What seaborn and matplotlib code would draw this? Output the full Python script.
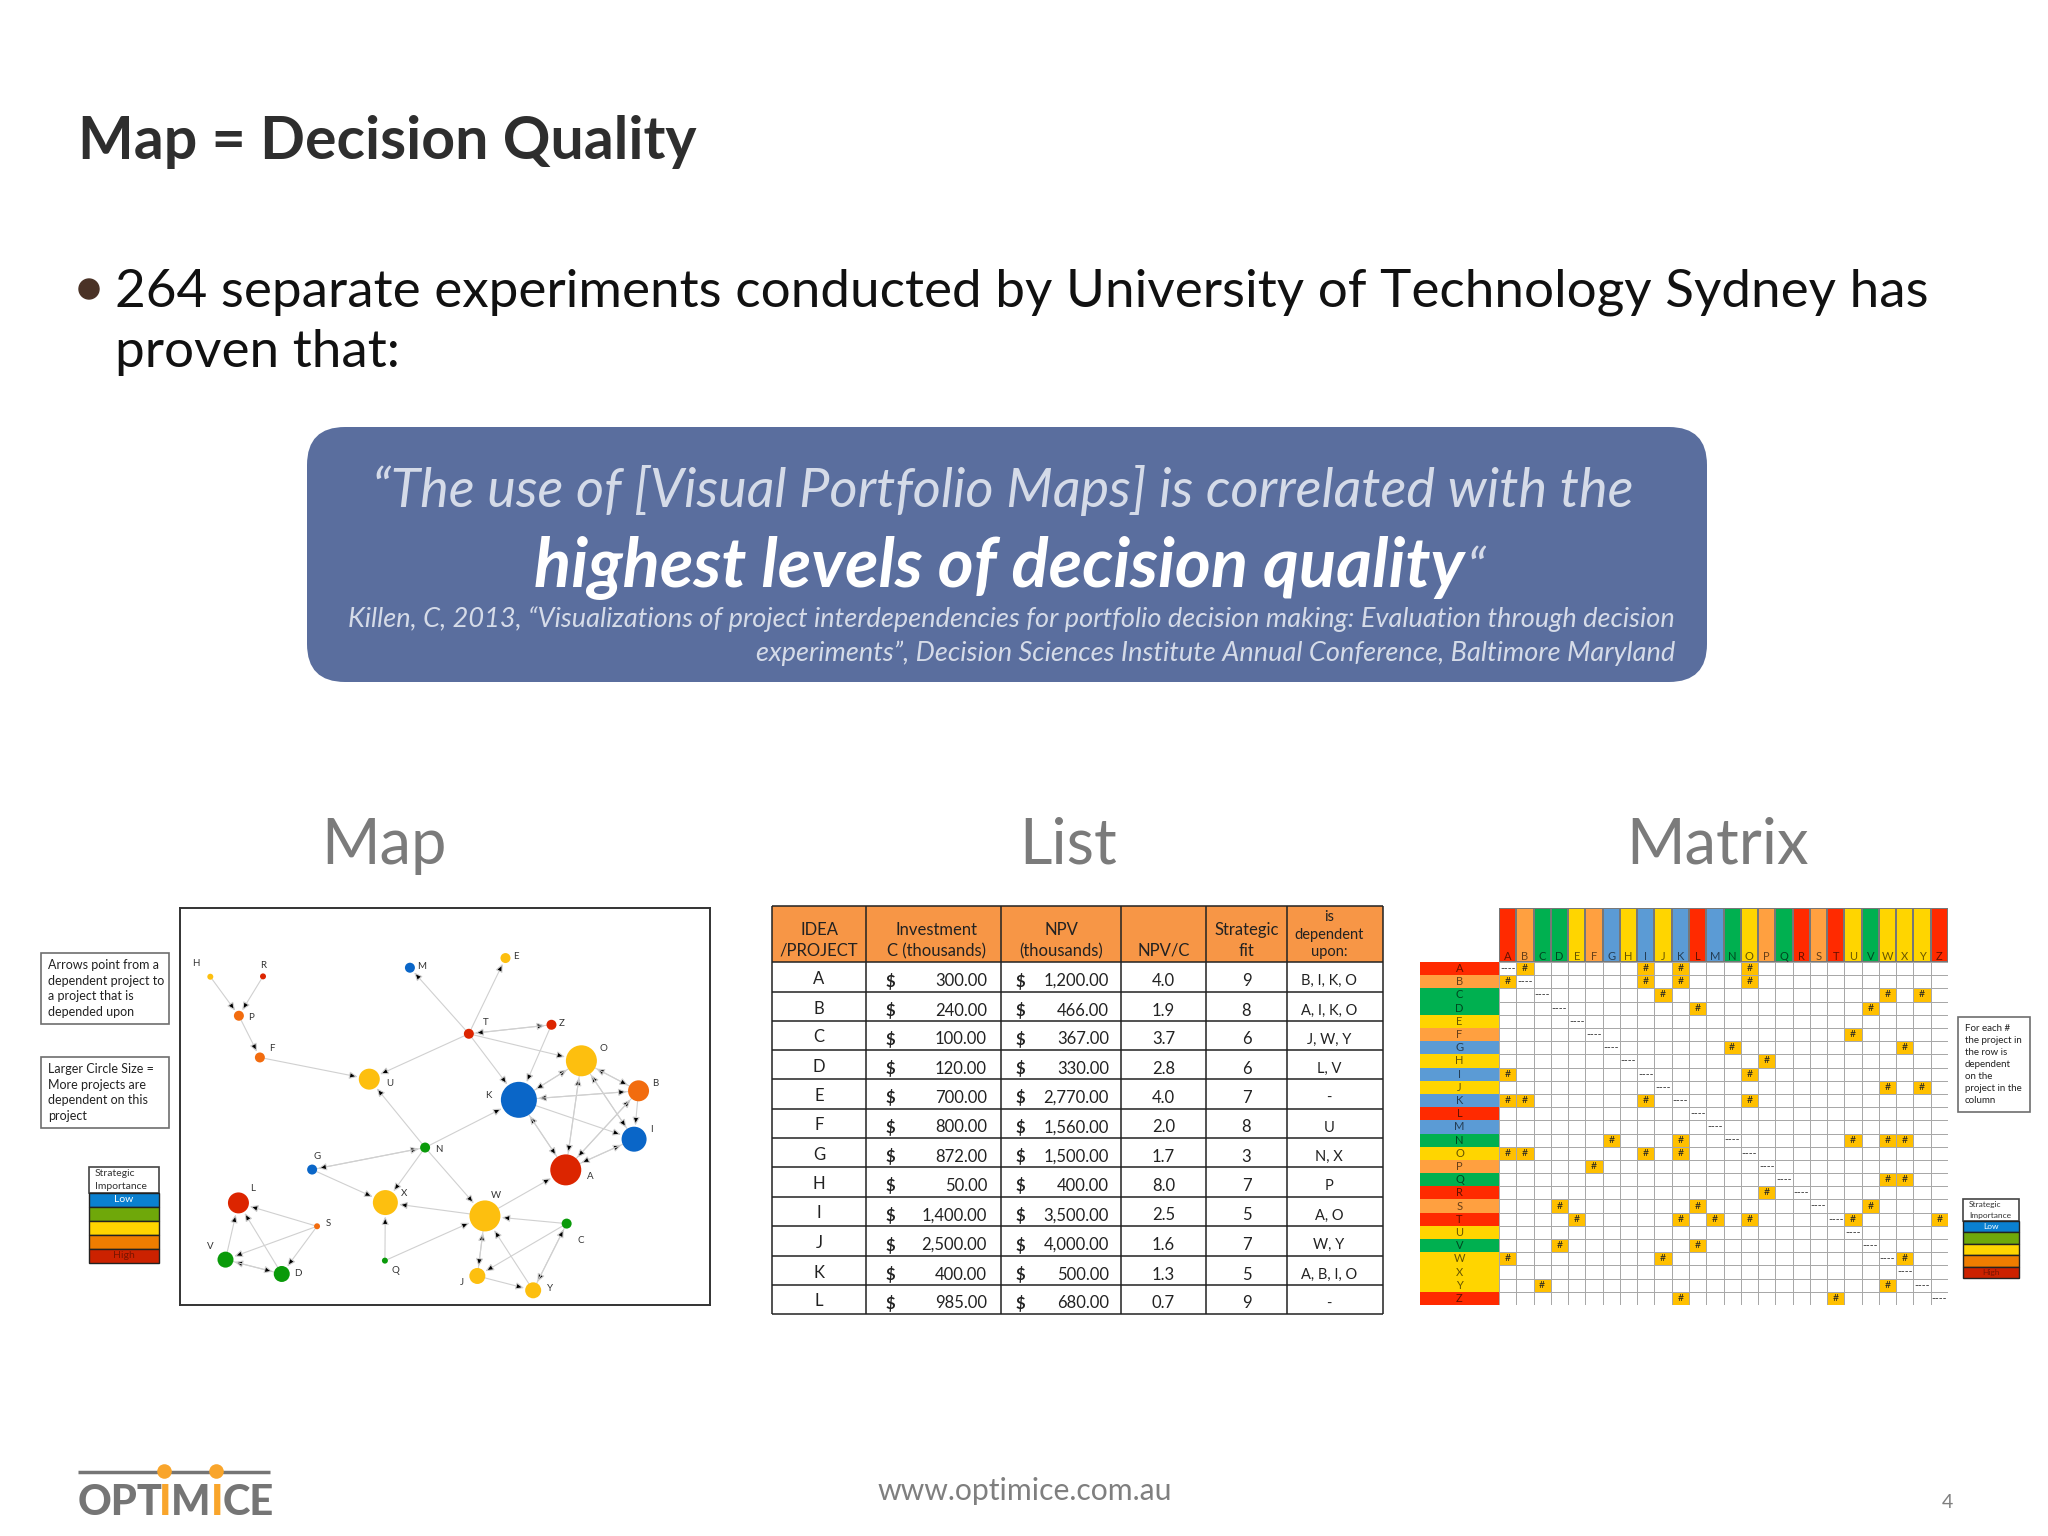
import pandas as pd
import numpy as np
import matplotlib
matplotlib.use("Agg")
import matplotlib.pyplot as plt
from matplotlib.colors import ListedColormap
from matplotlib.patches import FancyBboxPatch, Rectangle, Circle
import seaborn as sns

# projets : lettre, importance, dependances (lignes de la matrice)
projects = list("ABCDEFGHIJKLMNOPQRSTUVWXYZ")
importance = ["red", "orange", "green", "green", "yellow", "orange", "blue", "yellow", "blue",
              "yellow", "blue", "red", "blue", "green", "yellow", "orange", "green", "red",
              "orange", "red", "yellow", "green", "yellow", "yellow", "yellow", "red"]
depends = ["BIKO", "AIKO", "JWY", "LV", "", "U", "NX", "P", "AO", "WY", "ABIO", "", "",
           "GKUWX", "ABIK", "F", "WX", "P", "DLV", "EKMOUZ", "", "DL", "AJX", "", "CW", "KT"]

# carte : positions
node_x = [1200, 1363, 1202, 564, 1065, 515, 632, 404, 1353, 1002, 1095, 467, 851,
          885, 1235, 468, 795, 522, 643, 983, 760, 438, 1019, 796, 1127, 1168]
node_y = [810, 573, 971, 1122, 175, 473, 809, 231, 718, 1128, 600, 909, 204,
          743, 483, 348, 1082, 230, 979, 402, 538, 1079, 948, 908, 1171, 375]
node_diam = [31, 21, 10, 16, 10, 10, 10, 6, 25, 16, 36, 21, 10,
             10, 31, 10, 6, 6, 6, 10, 21, 16, 31, 25, 16, 10]
label_x = [1254, 1400, 1234, 601, 1088, 541, 644, 372, 1392, 968, 1027, 498, 877,
           915, 1284, 496, 819, 522, 669, 1020, 807, 405, 1044, 838, 1164, 1191]
label_y = [830, 552, 1021, 1120, 170, 446, 769, 191, 690, 1148, 587, 866, 199,
           749, 447, 352, 1111, 197, 972, 369, 552, 1039, 887, 881, 1166, 370]

# tableau
table_ids = list("ABCDEFGHIJKL")
investment = [300, 240, 100, 120, 700, 800, 872, 50, 1400, 2500, 400, 985]
npv = [1200, 466, 367, 330, 2770, 1560, 1500, 400, 3500, 4000, 500, 680]
npv_c = [4.0, 1.9, 3.7, 2.8, 4.0, 2.0, 1.7, 8.0, 2.5, 1.6, 1.3, 0.7]
strategic_fit = [9, 8, 6, 6, 7, 8, 3, 7, 5, 7, 5, 9]
table_headers = ["IDEA\n/PROJECT", "Investment\nC (thousands)", "NPV\n(thousands)",
                 "NPV/C", "Strategic\nfit", "is\ndependent\nupon:"]

node_colors = {"red": "#dc2500", "orange": "#f26c0f", "yellow": "#fdbf0f",
               "green": "#0a9a0a", "blue": "#0a66c8"}
cell_colors = {"red": "#ff2a00", "orange": "#ffa040", "yellow": "#ffd500",
               "green": "#00b050", "blue": "#5b9bd5"}
legend_colors = ["#0a80d0", "#6fa80a", "#ffd500", "#ef7d00", "#cc2200"]

W, H = 2048, 1536
sns.set_theme(style="white")
plt.rcParams["font.family"] = ["Lato", "DejaVu Sans"]

fig = plt.figure(figsize=(20.48, 15.36), dpi=100, facecolor="white")


def px_axes(x0, y0, x1, y1):
    return fig.add_axes([x0 / W, 1 - y1 / H, (x1 - x0) / W, (y1 - y0) / H])


bg = fig.add_axes([0, 0, 1, 1])
bg.set_xlim(0, W)
bg.set_ylim(H, 0)
bg.axis("off")

# titres
bg.text(78, 159, "Map = Decision Quality", fontsize=42.5, fontweight="bold", color="#2e2e2e")
bg.add_patch(Circle((89, 289), 10, color="#4a3226"))
bg.text(115, 307, "264 separate experiments conducted by University of Technology Sydney has",
        fontsize=38.2, color="#111111")
bg.text(115, 367, "proven that:", fontsize=38.2, color="#111111")

# citation
bg.add_patch(FancyBboxPatch((337, 457), 1340, 195, boxstyle="round,pad=30,rounding_size=38",
                            fc="#5a6e9e", ec="#5a6e9e", lw=0))
bg.text(1003, 507, "\u201cThe use of [Visual Portfolio Maps] is correlated with the", ha="center",
        fontsize=39, style="italic", color="#d5dbe8")
bg.text(1464, 587, "highest levels of decision quality", ha="right", fontsize=49.5,
        style="italic", fontweight="bold", color="white")
bg.text(1466, 587, "\u201c", fontsize=39, style="italic", color="#d5dbe8")
bg.text(1675, 627, "Killen, C, 2013, \u201cVisualizations of project interdependencies for portfolio decision making: Evaluation through decision",
        ha="right", fontsize=19.55, style="italic", color="#d5dbe8")
bg.text(1675, 661, "experiments\u201d, Decision Sciences Institute Annual Conference, Baltimore Maryland",
        ha="right", fontsize=19.55, style="italic", color="#d5dbe8")

for name, cx in [("Map", 384), ("List", 1068), ("Matrix", 1717)]:
    bg.text(cx, 864, name, ha="center", fontsize=45.5, color="#7b7b7b")


def note_box(x0, y0, x1, y1, lines, size):
    bg.add_patch(Rectangle((x0, y0), x1 - x0, y1 - y0, fc="white", ec="#6e6e6e", lw=1.2))
    step = (y1 - y0) / len(lines) * 0.88
    top = (y0 + y1) / 2 - step * len(lines) / 2
    for i, line in enumerate(lines):
        bg.text(x0 + 7, top + step * (i + 0.5), line, va="center", fontsize=size, color="#222222")


def scale_box(x0, y0, x1, y1, ysplit, size):
    bg.add_patch(Rectangle((x0, y0), x1 - x0, ysplit - y0, fc="white", ec="#444444", lw=1.2))
    quarter = (ysplit - y0) / 4
    bg.text(x0 + 6, y0 + quarter, "Strategic", va="center", fontsize=size, color="#333333")
    bg.text(x0 + 6, y0 + 3 * quarter, "Importance", va="center", fontsize=size, color="#333333")
    step = (y1 - ysplit) / 5
    for i, col in enumerate(legend_colors):
        bg.add_patch(Rectangle((x0, ysplit + i * step), x1 - x0, step, fc=col, ec="#222222", lw=1))
    bg.text((x0 + x1) / 2, ysplit + step / 2, "Low", ha="center", va="center", fontsize=size, color="white")
    bg.text((x0 + x1) / 2, y1 - step / 2, "High", ha="center", va="center", fontsize=size, color="#7a1500")


note_box(41, 953, 169, 1024, ["Arrows point from a", "dependent project to", "a project that is", "depended upon"], 9)
note_box(41, 1057, 169, 1128, ["Larger Circle Size =", "More projects are", "dependent on this", "project"], 9)
scale_box(89, 1167, 159, 1263, 1193, 7.5)
note_box(1958, 1017, 2030, 1112, ["For each #", "the project in", "the row is", "dependent", "on the", "project in the", "column"], 7)
scale_box(1963, 1199, 2019, 1278, 1221, 6)

# --- carte ---
ax_map = px_axes(179.5, 908, 710, 1305)
nodes = pd.DataFrame({"project": projects, "x": node_x, "y": node_y, "diam": node_diam,
                      "importance": importance})
size_pts = {d: (d * 0.72) ** 2 for d in set(node_diam)}
pos = nodes.set_index("project")
for src, targets in zip(projects, depends):
    for dst in targets:
        ax_map.annotate("", xy=(pos.x[dst], pos.y[dst]), xytext=(pos.x[src], pos.y[src]),
                        arrowprops=dict(arrowstyle="-|>,head_length=0.4,head_width=0.18",
                                        ec="#d0d0d0", fc="black", lw=0.8, mutation_scale=12,
                                        shrinkA=pos.diam[src] * 0.36,
                                        shrinkB=pos.diam[dst] * 0.36 + 1))
sns.scatterplot(data=nodes, x="x", y="y", hue="importance", palette=node_colors,
                size="diam", sizes=size_pts, linewidth=0, legend=False, ax=ax_map, zorder=3)
for name, lx, ly in zip(projects, label_x, label_y):
    ax_map.text(lx, ly, name, ha="center", va="center", fontsize=7, color="#333333")
ax_map.set_xlim(335, 1523)
ax_map.set_ylim(1215, 25)
ax_map.set_xticks([])
ax_map.set_yticks([])
ax_map.set_xlabel("")
ax_map.set_ylabel("")
for s in ax_map.spines.values():
    s.set_color("#333333")
    s.set_linewidth(1.4)

# --- tableau ---
col_edges = [772, 866, 1001, 1121, 1206, 1287, 1383]
row_edges = [906, 962, 992, 1021, 1050, 1079, 1109, 1138, 1167, 1197, 1226, 1256, 1285, 1314]
bg.add_patch(Rectangle((col_edges[0], row_edges[0]), col_edges[-1] - col_edges[0],
                       row_edges[1] - row_edges[0], fc="#f79646", lw=0))
bg.vlines(col_edges, row_edges[0], row_edges[-1], color="#222222", lw=1.1)
bg.hlines(row_edges, col_edges[0], col_edges[-1], color="#222222", lw=1.1)
for j, head in enumerate(table_headers):
    cx = (col_edges[j] + col_edges[j + 1]) / 2
    if j == 1:
        cx += 3
    if j == 5:
        cx -= 6
    fs = 10.5 if j == 5 else 12
    bg.text(cx, row_edges[1] - 3, head, ha="center", va="bottom", fontsize=fs,
            color="#222222", linespacing=1.3 if j == 5 else 1.35)
for i, pid in enumerate(table_ids):
    cy = (row_edges[i + 1] + row_edges[i + 2]) / 2 + 4
    kw = dict(va="center", fontsize=12, color="#222222")
    bg.text((col_edges[0] + col_edges[1]) / 2, cy - 2, pid, ha="center", **kw)
    bg.text(col_edges[1] + 20, cy, "$", ha="left", fontweight="bold", **kw)
    bg.text(col_edges[2] - 14, cy, f"{investment[i]:,.2f}", ha="right", **kw)
    bg.text(col_edges[2] + 15, cy, "$", ha="left", fontweight="bold", **kw)
    bg.text(col_edges[3] - 12, cy, f"{npv[i]:,.2f}", ha="right", **kw)
    bg.text((col_edges[3] + col_edges[4]) / 2, cy, f"{npv_c[i]:.1f}", ha="center", **kw)
    bg.text((col_edges[4] + col_edges[5]) / 2, cy, str(strategic_fit[i]), ha="center", **kw)
    bg.text((col_edges[5] + col_edges[6]) / 2 - 6, cy, ", ".join(depends[i]) or "-", ha="center",
            va="center", fontsize=10.5, color="#222222")

# --- matrice ---
n = len(projects)
codes = {"red": 0, "orange": 1, "yellow": 2, "green": 3, "blue": 4}
imp_cmap = ListedColormap([cell_colors[k] for k in codes])
imp_codes = [codes[c] for c in importance]

grid = np.zeros((n, n), dtype=int)
marks = np.full((n, n), "", dtype=object)
for i, targets in enumerate(depends):
    marks[i, i] = "----"
    for t in targets:
        grid[i, projects.index(t)] = 1
        marks[i, projects.index(t)] = "#"

ax_body = px_axes(1499, 962, 1948, 1305)
sns.heatmap(grid, cmap=ListedColormap(["white", "#ffc000"]), vmin=0, vmax=1, cbar=False,
            annot=marks, fmt="", annot_kws={"fontsize": 7.5, "color": "#222222"},
            linewidths=0.6, linecolor="#a8a8a8", xticklabels=False, yticklabels=False, ax=ax_body)

ax_top = px_axes(1499, 908, 1948, 962)
sns.heatmap(np.array([imp_codes]), cmap=imp_cmap, vmin=0, vmax=4, cbar=False,
            xticklabels=False, yticklabels=False, linewidths=0.3, linecolor="#777777", ax=ax_top)
for j, name in enumerate(projects):
    ax_top.text(j + 0.5, 0.89, name, ha="center", va="center", fontsize=8, color="black", alpha=0.6)

ax_left = px_axes(1420, 962, 1499, 1305)
sns.heatmap(np.array([imp_codes]).T, cmap=imp_cmap, vmin=0, vmax=4, cbar=False,
            xticklabels=False, yticklabels=False, linewidths=0, ax=ax_left)
for i, name in enumerate(projects):
    ax_left.text(0.5, i + 0.5, name, ha="center", va="center", fontsize=8, color="black", alpha=0.6)

# --- pied de page : logo, url, numero ---
grey = "#757575"
orange = "#f9a52b"
bg.plot([78, 270], [1472, 1472], color=grey, lw=2.5, solid_capstyle="butt")
bg.scatter([164, 216], [1471, 1471], s=110, color=orange, zorder=3, linewidths=0)
for txt, lx, col in [("OPT", 78, grey), ("I", 159, orange), ("M", 171, grey), ("I", 211, orange), ("CE", 223, grey)]:
    bg.text(lx, 1515, txt, fontsize=30, fontweight=900, family="Lato", color=col)
bg.text(1025, 1500, "www.optimice.com.au", ha="center", fontsize=21.7, color="#7f7f7f")
bg.text(1947, 1508, "4", ha="center", fontsize=14, color="#7f7f7f")

fig.savefig("out.png", dpi=100)
